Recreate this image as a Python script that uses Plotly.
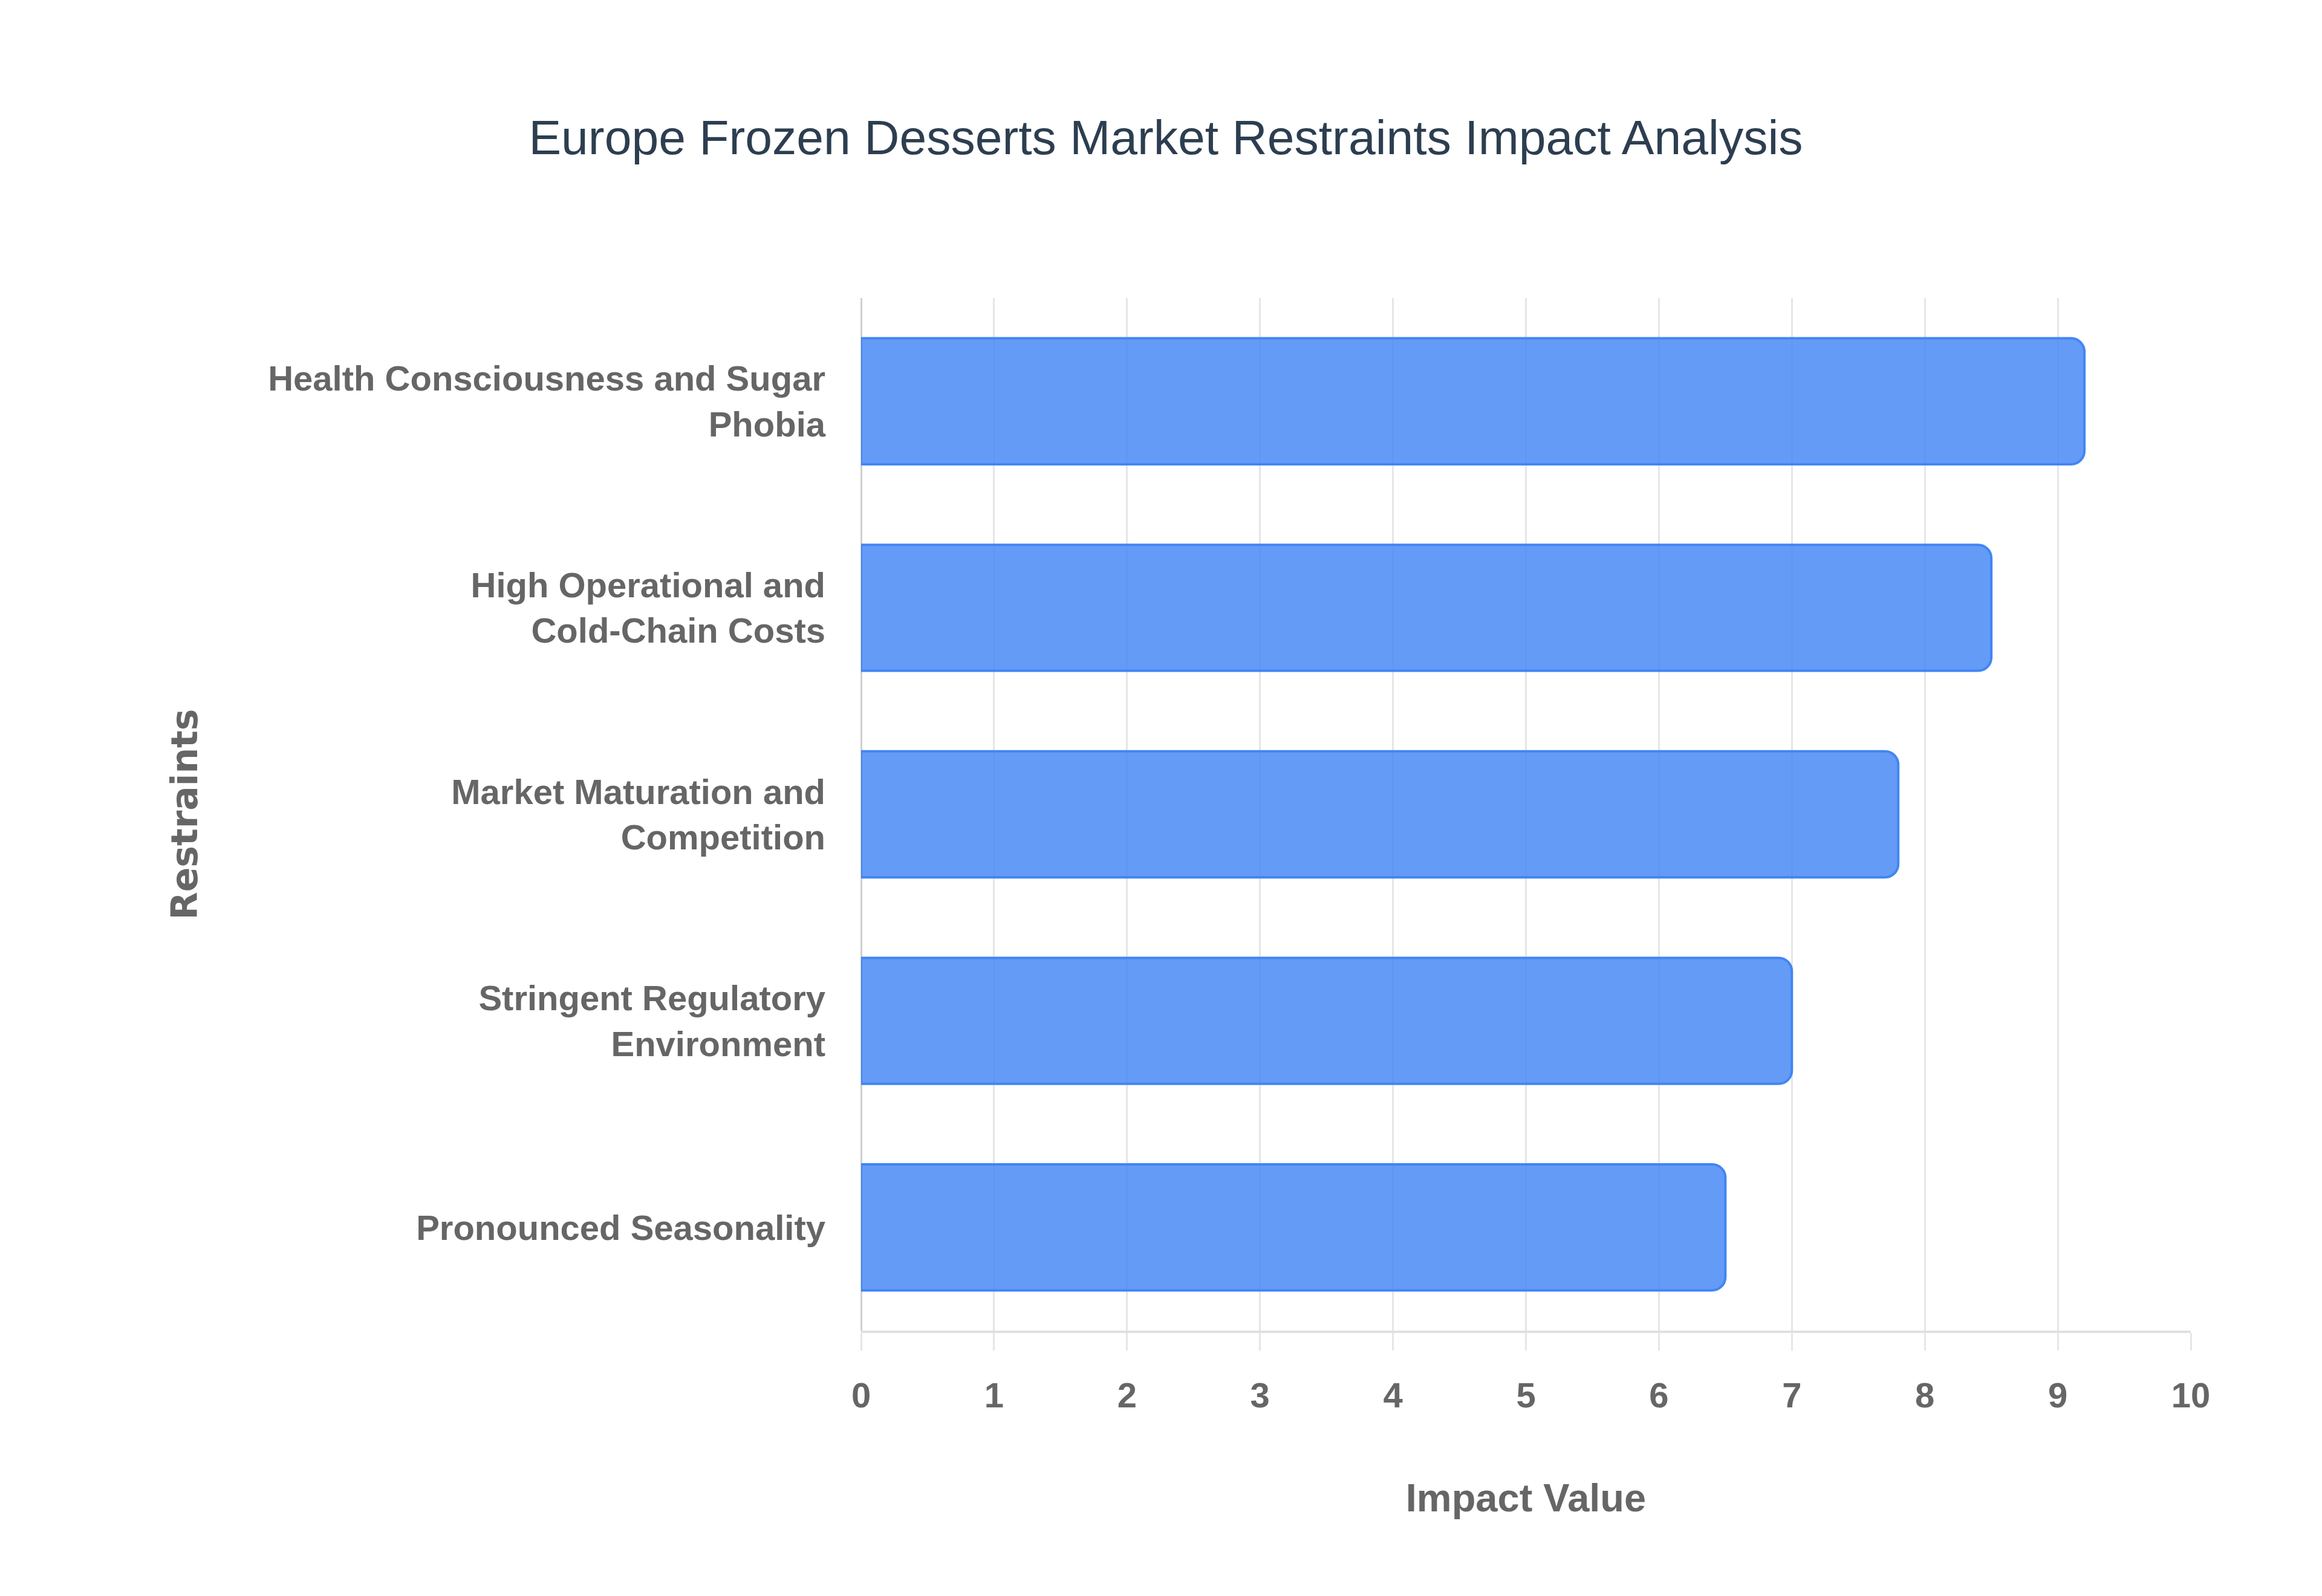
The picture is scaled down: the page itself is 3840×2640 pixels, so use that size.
import plotly.graph_objects as go

# restraints, top to bottom as shown
restraints = [
    "Health Consciousness and Sugar<br>Phobia",
    "High Operational and<br>Cold-Chain Costs",
    "Market Maturation and<br>Competition",
    "Stringent Regulatory<br>Environment",
    "Pronounced Seasonality",
]
impact = [9.2, 8.5, 7.8, 7.0, 6.5]
x_ticks = [0, 1, 2, 3, 4, 5, 6, 7, 8, 9, 10]

label_font = dict(family="Arial, Liberation Sans, sans-serif", size=58, color="#666666")

fig = go.Figure()
fig.add_trace(go.Bar(
    x=impact,
    y=restraints,
    orientation="h",
    marker=dict(
        color="rgba(66,133,244,0.82)",
        line=dict(color="#4285f4", width=4),
        cornerradius=22,
    ),
    hoverinfo="x+y",
))

fig.update_layout(
    width=3840,
    height=2640,
    paper_bgcolor="white",
    plot_bgcolor="white",
    margin=dict(l=1416, r=225, t=485, b=447),
    bargap=0.39,
    showlegend=False,
    title=dict(
        text="Europe Frozen Desserts Market Restraints Impact Analysis",
        x=0.5, xanchor="center",
        y=0.917, yanchor="middle",
        font=dict(family="Arial, Liberation Sans, sans-serif", size=80.5, color="#2c3e50"),
    ),
    xaxis=dict(
        range=[0, 10],
        tickvals=x_ticks,
        tickfont=dict(label_font, weight="bold"),
        showgrid=True,
        gridcolor="#e6e6e6",
        gridwidth=3,
        zeroline=True,
        zerolinecolor="#d0d0d0",
        zerolinewidth=3,
        showline=True,
        linecolor="#e0e0e0",
        linewidth=4,
        ticks="outside",
        ticklen=29,
        tickwidth=3,
        tickcolor="#e6e6e6",
        ticklabelstandoff=24,
        title=dict(
            text="Impact Value",
            font=dict(family="Arial, Liberation Sans, sans-serif", size=65, color="#666666", weight="bold"),
            standoff=117,
        ),
    ),
    yaxis=dict(
        autorange="reversed",
        tickfont=dict(label_font, weight="bold"),
        showgrid=False,
        ticks="",
        ticklabelstandoff=58,
        title=dict(
            text="Restraints",
            font=dict(family="DejaVu Sans, sans-serif", size=60, color="#666666", weight="bold"),
            standoff=97,
        ),
    ),
)

fig.write_html("out.html")
